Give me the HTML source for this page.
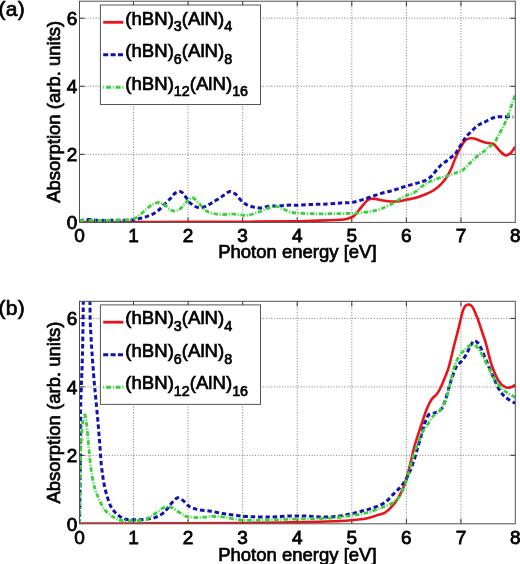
<!DOCTYPE html>
<html><head><meta charset="utf-8"><style>
html,body{margin:0;padding:0;background:#fff;}
body{width:520px;height:564px;overflow:hidden;}
svg{display:block;}
text{font-family:"Liberation Sans", Arial, Helvetica, sans-serif;fill:#000;stroke:#000;stroke-width:0.7px;}
.tk{font-size:19px;stroke-width:0.8px;}
.lab{font-size:18.5px;}
.leg{font-size:18.6px;}
.sub{font-size:14.3px;}
.pl{font-size:21px;letter-spacing:0.3px;}
</style></head><body>
<svg width="520" height="564" viewBox="0 0 520 564">
<rect width="520" height="564" fill="#fff"/>
<clipPath id="clipa"><rect x="79.50" y="1.20" width="435.80" height="221.20"/></clipPath>
<path d="M133.52 1.20 V222.40 M188.09 1.20 V222.40 M242.66 1.20 V222.40 M297.23 1.20 V222.40 M351.80 1.20 V222.40 M406.37 1.20 V222.40 M460.94 1.20 V222.40 M79.50 154.34 H515.30 M79.50 86.28 H515.30 M79.50 18.22 H515.30" stroke="#6e6e6e" stroke-width="0.9" stroke-dasharray="1 1.7" fill="none"/>
<path d="M133.52 222.40 v-5 M133.52 1.20 v5 M188.09 222.40 v-5 M188.09 1.20 v5 M242.66 222.40 v-5 M242.66 1.20 v5 M297.23 222.40 v-5 M297.23 1.20 v5 M351.80 222.40 v-5 M351.80 1.20 v5 M406.37 222.40 v-5 M406.37 1.20 v5 M460.94 222.40 v-5 M460.94 1.20 v5 M79.50 154.34 h5 M515.30 154.34 h-5 M79.50 86.28 h5 M515.30 86.28 h-5 M79.50 18.22 h5 M515.30 18.22 h-5" stroke="#333" stroke-width="1" fill="none"/>
<g clip-path="url(#clipa)" fill="none" stroke-linejoin="round">
<path d="M79.50 222.10 C91.25 222.08 121.58 222.07 150.00 222.00 C178.42 221.93 225.83 221.80 250.00 221.70 C274.17 221.60 284.62 221.55 295.00 221.40 C305.38 221.25 306.53 221.00 312.30 220.80 C318.07 220.60 324.98 220.37 329.60 220.20 C334.22 220.03 337.15 220.02 340.00 219.80 C342.85 219.58 344.45 219.47 346.70 218.90 C348.95 218.33 351.48 217.82 353.50 216.40 C355.52 214.98 357.02 212.53 358.80 210.40 C360.58 208.27 362.52 205.47 364.20 203.60 C365.88 201.73 367.10 199.98 368.90 199.20 C370.70 198.42 372.65 198.68 375.00 198.90 C377.35 199.12 380.32 200.07 383.00 200.50 C385.68 200.93 388.40 201.37 391.10 201.50 C393.80 201.63 396.55 201.62 399.20 201.30 C401.85 200.98 404.37 200.15 407.00 199.60 C409.63 199.05 411.90 198.88 415.00 198.00 C418.10 197.12 422.42 195.63 425.60 194.30 C428.78 192.97 431.43 191.78 434.10 190.00 C436.77 188.22 439.47 185.82 441.60 183.60 C443.73 181.38 445.30 179.18 446.90 176.70 C448.50 174.22 449.85 171.65 451.20 168.70 C452.55 165.75 453.65 162.12 455.00 159.00 C456.35 155.88 457.88 152.73 459.30 150.00 C460.72 147.27 462.27 144.37 463.50 142.60 C464.73 140.83 465.45 140.12 466.70 139.40 C467.95 138.68 469.58 138.40 471.00 138.30 C472.42 138.20 473.62 138.35 475.20 138.80 C476.78 139.25 478.87 140.40 480.50 141.00 C482.13 141.60 483.35 142.00 485.00 142.40 C486.65 142.80 488.87 143.05 490.40 143.40 C491.93 143.75 492.73 143.37 494.20 144.50 C495.67 145.63 497.37 148.42 499.20 150.20 C501.03 151.98 503.40 154.63 505.20 155.20 C507.00 155.77 508.32 155.00 510.00 153.60 C511.68 152.20 514.42 147.93 515.30 146.80" stroke="#e8141c" stroke-width="2.6"/>
<path d="M79.50 220.60 C80.42 220.47 83.25 219.97 85.00 219.80 C86.75 219.63 88.33 219.53 90.00 219.60 C91.67 219.67 92.50 220.07 95.00 220.20 C97.50 220.33 101.67 220.38 105.00 220.40 C108.33 220.42 111.67 220.33 115.00 220.30 C118.33 220.27 121.92 220.28 125.00 220.20 C128.08 220.12 130.75 220.17 133.50 219.80 C136.25 219.43 139.20 218.58 141.50 218.00 C143.80 217.42 145.38 216.97 147.30 216.30 C149.22 215.63 151.08 215.05 153.00 214.00 C154.92 212.95 156.87 211.63 158.80 210.00 C160.73 208.37 162.67 206.12 164.60 204.20 C166.53 202.28 168.67 200.32 170.40 198.50 C172.13 196.68 173.47 194.47 175.00 193.30 C176.53 192.13 178.25 191.50 179.60 191.50 C180.95 191.50 181.95 192.18 183.10 193.30 C184.25 194.42 185.42 196.67 186.50 198.20 C187.58 199.73 187.93 201.02 189.60 202.50 C191.27 203.98 194.18 206.33 196.50 207.10 C198.82 207.87 201.18 207.67 203.50 207.10 C205.82 206.53 208.10 204.95 210.40 203.70 C212.70 202.45 215.00 201.05 217.30 199.60 C219.60 198.15 222.08 196.35 224.20 195.00 C226.32 193.65 228.07 191.60 230.00 191.50 C231.93 191.40 233.88 192.85 235.80 194.40 C237.72 195.95 239.65 199.07 241.50 200.80 C243.35 202.53 244.85 203.75 246.90 204.80 C248.95 205.85 251.48 206.58 253.80 207.10 C256.12 207.62 258.30 208.03 260.80 207.90 C263.30 207.77 266.12 206.62 268.80 206.30 C271.48 205.98 274.40 206.12 276.90 206.00 C279.40 205.88 281.48 205.77 283.80 205.60 C286.12 205.43 288.55 205.07 290.80 205.00 C293.05 204.93 293.72 205.30 297.30 205.20 C300.88 205.10 307.30 204.60 312.30 204.40 C317.30 204.20 322.48 204.25 327.30 204.00 C332.12 203.75 336.97 203.18 341.20 202.90 C345.43 202.62 348.42 203.07 352.70 202.30 C356.98 201.53 362.28 199.75 366.90 198.30 C371.52 196.85 375.92 194.95 380.40 193.60 C384.88 192.25 389.70 191.38 393.80 190.20 C397.90 189.02 401.12 187.68 405.00 186.50 C408.88 185.32 413.67 184.12 417.10 183.10 C420.53 182.08 423.20 181.55 425.60 180.40 C428.00 179.25 429.72 177.88 431.50 176.20 C433.28 174.52 434.70 172.17 436.30 170.30 C437.90 168.43 439.33 166.60 441.10 165.00 C442.87 163.40 445.17 162.03 446.90 160.70 C448.63 159.37 450.15 158.03 451.50 157.00 C452.85 155.97 453.88 155.85 455.00 154.50 C456.12 153.15 456.97 150.88 458.20 148.90 C459.43 146.92 461.17 144.55 462.40 142.60 C463.63 140.65 464.17 138.98 465.60 137.20 C467.03 135.42 469.22 133.67 471.00 131.90 C472.78 130.13 474.63 127.98 476.30 126.60 C477.97 125.22 479.55 124.40 481.00 123.60 C482.45 122.80 483.38 122.57 485.00 121.80 C486.62 121.03 488.82 119.82 490.70 119.00 C492.58 118.18 494.18 117.28 496.30 116.90 C498.42 116.52 500.80 116.70 503.40 116.70 C506.00 116.70 510.25 116.85 511.90 116.90 C513.55 116.95 513.07 116.98 513.30 117.00" stroke="#1212b0" stroke-width="3" stroke-dasharray="4.5 2.8"/>
<path d="M79.50 220.60 C81.25 220.57 86.58 220.40 90.00 220.40 C93.42 220.40 96.67 220.62 100.00 220.60 C103.33 220.58 106.67 220.37 110.00 220.30 C113.33 220.23 117.00 220.28 120.00 220.20 C123.00 220.12 125.75 219.97 128.00 219.80 C130.25 219.63 131.25 220.25 133.50 219.20 C135.75 218.15 139.20 215.32 141.50 213.50 C143.80 211.68 145.38 209.85 147.30 208.30 C149.22 206.75 151.08 205.17 153.00 204.20 C154.92 203.23 156.87 202.40 158.80 202.50 C160.73 202.60 162.87 203.75 164.60 204.80 C166.33 205.85 167.57 207.73 169.20 208.80 C170.83 209.87 172.67 211.10 174.40 211.20 C176.13 211.30 177.83 210.68 179.60 209.40 C181.37 208.12 183.43 205.15 185.00 203.50 C186.57 201.85 187.67 200.43 189.00 199.50 C190.33 198.57 191.37 197.32 193.00 197.90 C194.63 198.48 196.67 200.88 198.80 203.00 C200.93 205.12 203.30 208.85 205.80 210.60 C208.30 212.35 211.10 212.83 213.80 213.50 C216.50 214.17 219.13 214.53 222.00 214.60 C224.87 214.67 228.33 213.90 231.00 213.90 C233.67 213.90 235.83 214.35 238.00 214.60 C240.17 214.85 242.00 215.37 244.00 215.40 C246.00 215.43 248.17 215.17 250.00 214.80 C251.83 214.43 253.20 213.80 255.00 213.20 C256.80 212.60 258.68 212.02 260.80 211.20 C262.92 210.38 265.20 209.12 267.70 208.30 C270.20 207.48 273.30 206.22 275.80 206.30 C278.30 206.38 280.40 207.90 282.70 208.80 C285.00 209.70 287.13 210.98 289.60 211.70 C292.07 212.42 292.77 212.75 297.50 213.10 C302.23 213.45 311.68 213.72 318.00 213.80 C324.32 213.88 329.48 213.68 335.40 213.60 C341.32 213.52 348.25 213.57 353.50 213.30 C358.75 213.03 362.42 212.72 366.90 212.00 C371.38 211.28 375.92 210.50 380.40 209.00 C384.88 207.50 390.53 204.67 393.80 203.00 C397.07 201.33 397.75 200.30 400.00 199.00 C402.25 197.70 404.80 196.35 407.30 195.20 C409.80 194.05 412.65 193.50 415.00 192.10 C417.35 190.70 418.92 188.57 421.40 186.80 C423.88 185.03 427.07 182.92 429.90 181.50 C432.73 180.08 435.57 179.18 438.40 178.30 C441.23 177.42 444.07 177.08 446.90 176.20 C449.73 175.32 452.92 173.88 455.40 173.00 C457.88 172.12 460.20 171.73 461.80 170.90 C463.40 170.07 463.80 169.15 465.00 168.00 C466.20 166.85 467.65 165.33 469.00 164.00 C470.35 162.67 471.35 161.62 473.10 160.00 C474.85 158.38 477.52 155.88 479.50 154.30 C481.48 152.72 483.38 151.75 485.00 150.50 C486.62 149.25 487.67 148.02 489.20 146.80 C490.73 145.58 492.78 144.87 494.20 143.20 C495.62 141.53 496.40 139.18 497.70 136.80 C499.00 134.42 500.58 131.63 502.00 128.90 C503.42 126.17 504.90 123.47 506.20 120.40 C507.50 117.33 508.73 113.57 509.80 110.50 C510.87 107.43 511.68 104.58 512.60 102.00 C513.52 99.42 514.85 96.17 515.30 95.00" stroke="#3ad23a" stroke-width="2.8" stroke-dasharray="4.6 1.7 1 1.7"/>
</g>
<rect x="79.50" y="1.20" width="435.80" height="221.20" fill="none" stroke="#505050" stroke-width="1"/>
<text x="79.50" y="242.00" text-anchor="middle" class="tk">0</text>
<text x="133.52" y="242.00" text-anchor="middle" class="tk">1</text>
<text x="188.09" y="242.00" text-anchor="middle" class="tk">2</text>
<text x="242.66" y="242.00" text-anchor="middle" class="tk">3</text>
<text x="297.23" y="242.00" text-anchor="middle" class="tk">4</text>
<text x="351.80" y="242.00" text-anchor="middle" class="tk">5</text>
<text x="406.37" y="242.00" text-anchor="middle" class="tk">6</text>
<text x="460.94" y="242.00" text-anchor="middle" class="tk">7</text>
<text x="515.30" y="242.00" text-anchor="middle" class="tk">8</text>
<text x="77.30" y="229.30" text-anchor="end" class="tk">0</text>
<text x="77.30" y="161.24" text-anchor="end" class="tk">2</text>
<text x="77.30" y="93.18" text-anchor="end" class="tk">4</text>
<text x="77.30" y="25.12" text-anchor="end" class="tk">6</text>
<text x="297.40" y="258.30" text-anchor="middle" class="lab">Photon energy [eV]</text>
<text transform="translate(59.5 111.80) rotate(-90)" text-anchor="middle" class="lab">Absorption (arb. units)</text>
<text x="-1.5" y="16.20" class="pl">(a)</text>
<rect x="100.40" y="5.00" width="160.10" height="99.50" fill="#fff" stroke="#555" stroke-width="1"/>
<path d="M103.2 22.30 H123.4" stroke="#e8141c" stroke-width="2.8"/>
<text x="125.3" y="24.50" class="leg">(hBN)<tspan class="sub" dy="6.6">3</tspan><tspan dy="-6.6">(AlN)</tspan><tspan class="sub" dy="6.6">4</tspan></text>
<path d="M103.2 54.80 H123.4" stroke="#1212b0" stroke-width="3" stroke-dasharray="5 2.4"/>
<text x="125.3" y="57.00" class="leg">(hBN)<tspan class="sub" dy="6.6">6</tspan><tspan dy="-6.6">(AlN)</tspan><tspan class="sub" dy="6.6">8</tspan></text>
<path d="M103.2 87.30 H123.4" stroke="#3ad23a" stroke-width="3" stroke-dasharray="1 1.8 5 1.8"/>
<text x="125.3" y="89.50" class="leg">(hBN)<tspan class="sub" dy="6.6">12</tspan><tspan dy="-6.6">(AlN)</tspan><tspan class="sub" dy="6.6">16</tspan></text>
<clipPath id="clipb"><rect x="79.50" y="301.30" width="435.80" height="222.50"/></clipPath>
<path d="M133.52 301.30 V523.80 M188.09 301.30 V523.80 M242.66 301.30 V523.80 M297.23 301.30 V523.80 M351.80 301.30 V523.80 M406.37 301.30 V523.80 M460.94 301.30 V523.80 M79.50 455.34 H515.30 M79.50 386.88 H515.30 M79.50 318.42 H515.30" stroke="#6e6e6e" stroke-width="0.9" stroke-dasharray="1 1.7" fill="none"/>
<path d="M133.52 523.80 v-5 M133.52 301.30 v5 M188.09 523.80 v-5 M188.09 301.30 v5 M242.66 523.80 v-5 M242.66 301.30 v5 M297.23 523.80 v-5 M297.23 301.30 v5 M351.80 523.80 v-5 M351.80 301.30 v5 M406.37 523.80 v-5 M406.37 301.30 v5 M460.94 523.80 v-5 M460.94 301.30 v5 M79.50 455.34 h5 M515.30 455.34 h-5 M79.50 386.88 h5 M515.30 386.88 h-5 M79.50 318.42 h5 M515.30 318.42 h-5" stroke="#333" stroke-width="1" fill="none"/>
<g clip-path="url(#clipb)" fill="none" stroke-linejoin="round">
<path d="M79.50 523.50 C91.25 523.48 122.42 523.48 150.00 523.40 C177.58 523.32 221.67 523.17 245.00 523.00 C268.33 522.83 277.50 522.60 290.00 522.40 C302.50 522.20 312.43 522.00 320.00 521.80 C327.57 521.60 330.27 521.45 335.40 521.20 C340.53 520.95 345.67 520.75 350.80 520.30 C355.93 519.85 361.67 519.38 366.20 518.50 C370.73 517.62 374.87 515.98 378.00 515.00 C381.13 514.02 382.72 513.98 385.00 512.60 C387.28 511.22 389.45 509.22 391.70 506.70 C393.95 504.18 396.53 500.73 398.50 497.50 C400.47 494.27 402.10 490.68 403.50 487.30 C404.90 483.92 405.77 481.13 406.90 477.20 C408.03 473.27 409.12 468.57 410.30 463.70 C411.48 458.83 412.57 453.25 414.00 448.00 C415.43 442.75 417.50 436.60 418.90 432.20 C420.30 427.80 421.22 425.13 422.40 421.60 C423.58 418.07 424.82 414.10 426.00 411.00 C427.18 407.90 428.33 405.22 429.50 403.00 C430.67 400.78 431.83 399.12 433.00 397.70 C434.17 396.28 435.33 395.95 436.50 394.50 C437.67 393.05 438.58 391.88 440.00 389.00 C441.42 386.12 443.55 380.82 445.00 377.20 C446.45 373.58 447.47 371.42 448.70 367.30 C449.93 363.18 451.48 356.22 452.40 352.50 C453.32 348.78 453.48 347.83 454.20 345.00 C454.92 342.17 455.87 338.75 456.70 335.50 C457.53 332.25 458.43 328.67 459.20 325.50 C459.97 322.33 460.62 319.17 461.30 316.50 C461.98 313.83 462.55 311.33 463.30 309.50 C464.05 307.67 464.97 306.33 465.80 305.50 C466.63 304.67 467.47 304.53 468.30 304.50 C469.13 304.47 469.97 304.67 470.80 305.30 C471.63 305.93 472.47 306.82 473.30 308.30 C474.13 309.78 474.97 312.17 475.80 314.20 C476.63 316.23 477.47 318.20 478.30 320.50 C479.13 322.80 479.97 325.50 480.80 328.00 C481.63 330.50 482.47 333.00 483.30 335.50 C484.13 338.00 484.45 338.23 485.80 343.00 C487.15 347.77 489.32 357.88 491.40 364.10 C493.48 370.32 495.98 376.45 498.30 380.30 C500.62 384.15 503.18 386.05 505.30 387.20 C507.42 388.35 509.33 387.58 511.00 387.20 C512.67 386.82 514.58 385.28 515.30 384.90" stroke="#e8141c" stroke-width="2.6"/>
<path d="M79.50 523.60 C79.57 519.67 79.77 510.10 79.90 500.00 C80.03 489.90 80.22 473.50 80.30 463.00 C80.38 452.50 80.35 445.83 80.40 437.00 C80.45 428.17 80.45 418.33 80.60 410.00 C80.75 401.67 81.00 395.83 81.30 387.00 C81.60 378.17 82.10 368.17 82.40 357.00 C82.70 345.83 82.90 330.33 83.10 320.00 C83.30 309.67 83.03 303.33 83.60 295.00 C84.17 286.67 85.50 270.00 86.50 270.00 C87.50 270.00 88.98 286.67 89.60 295.00 C90.22 303.33 89.93 312.50 90.20 320.00 C90.47 327.50 90.85 333.83 91.20 340.00 C91.55 346.17 91.80 350.07 92.30 357.00 C92.80 363.93 93.63 374.83 94.20 381.60 C94.77 388.37 95.13 391.53 95.70 397.60 C96.27 403.67 97.05 411.83 97.60 418.00 C98.15 424.17 98.57 429.27 99.00 434.60 C99.43 439.93 99.82 445.02 100.20 450.00 C100.58 454.98 100.85 460.00 101.30 464.50 C101.75 469.00 102.32 473.15 102.90 477.00 C103.48 480.85 104.03 484.18 104.80 487.60 C105.57 491.02 106.53 494.43 107.50 497.50 C108.47 500.57 109.38 503.58 110.60 506.00 C111.82 508.42 113.27 510.27 114.80 512.00 C116.33 513.73 117.93 515.18 119.80 516.40 C121.67 517.62 123.48 518.73 126.00 519.30 C128.52 519.87 131.90 519.78 134.90 519.80 C137.90 519.82 140.68 519.77 144.00 519.40 C147.32 519.03 151.72 518.57 154.80 517.60 C157.88 516.63 160.42 515.07 162.50 513.60 C164.58 512.13 165.70 510.65 167.30 508.80 C168.90 506.95 170.33 504.35 172.10 502.50 C173.87 500.65 175.97 497.93 177.90 497.70 C179.83 497.47 181.93 499.73 183.70 501.10 C185.47 502.47 187.07 504.78 188.50 505.90 C189.93 507.02 190.52 507.13 192.30 507.80 C194.08 508.47 196.12 509.33 199.20 509.90 C202.28 510.47 206.95 510.60 210.80 511.20 C214.65 511.80 218.47 512.85 222.30 513.50 C226.13 514.15 229.57 514.60 233.80 515.10 C238.03 515.60 241.67 516.18 247.70 516.50 C253.73 516.82 262.95 517.08 270.00 517.00 C277.05 516.92 284.17 516.17 290.00 516.00 C295.83 515.83 300.00 515.85 305.00 516.00 C310.00 516.15 314.93 516.80 320.00 516.90 C325.07 517.00 330.27 517.12 335.40 516.60 C340.53 516.08 346.20 514.77 350.80 513.80 C355.40 512.83 359.17 511.82 363.00 510.80 C366.83 509.78 370.13 509.08 373.80 507.70 C377.47 506.32 381.73 504.77 385.00 502.50 C388.27 500.23 390.87 496.63 393.40 494.10 C395.93 491.57 398.23 489.55 400.20 487.30 C402.17 485.05 403.52 483.40 405.20 480.60 C406.88 477.80 408.75 474.15 410.30 470.50 C411.85 466.85 413.23 462.63 414.50 458.70 C415.77 454.77 416.73 450.87 417.90 446.90 C419.07 442.93 420.60 438.08 421.50 434.90 C422.40 431.72 422.63 430.08 423.30 427.80 C423.97 425.52 424.53 423.42 425.50 421.20 C426.47 418.98 427.40 415.92 429.10 414.50 C430.80 413.08 433.57 413.73 435.70 412.70 C437.83 411.67 440.32 410.33 441.90 408.30 C443.48 406.27 444.07 403.82 445.20 400.50 C446.33 397.18 447.60 392.08 448.70 388.40 C449.80 384.72 450.57 381.92 451.80 378.40 C453.03 374.88 454.45 370.20 456.10 367.30 C457.75 364.40 460.03 363.08 461.70 361.00 C463.37 358.92 464.75 357.07 466.10 354.80 C467.45 352.53 468.67 349.57 469.80 347.40 C470.93 345.23 472.03 342.90 472.90 341.80 C473.77 340.70 474.27 340.70 475.00 340.80 C475.73 340.90 476.47 341.52 477.30 342.40 C478.13 343.28 478.42 342.87 480.00 346.10 C481.58 349.33 484.52 356.48 486.80 361.80 C489.08 367.12 491.40 373.00 493.70 378.00 C496.00 383.00 498.28 388.35 500.60 391.80 C502.92 395.25 505.15 396.78 507.60 398.70 C510.05 400.62 514.02 402.53 515.30 403.30" stroke="#1212b0" stroke-width="3" stroke-dasharray="4.5 2.8"/>
<path d="M79.50 523.60 C79.58 518.00 79.82 501.43 80.00 490.00 C80.18 478.57 80.35 463.83 80.60 455.00 C80.85 446.17 81.17 442.33 81.50 437.00 C81.83 431.67 82.18 426.45 82.60 423.00 C83.02 419.55 83.57 417.58 84.00 416.30 C84.43 415.02 84.77 414.02 85.20 415.30 C85.63 416.58 86.02 418.88 86.60 424.00 C87.18 429.12 88.10 439.67 88.70 446.00 C89.30 452.33 89.63 457.00 90.20 462.00 C90.77 467.00 91.30 471.50 92.10 476.00 C92.90 480.50 93.85 485.15 95.00 489.00 C96.15 492.85 97.50 495.77 99.00 499.10 C100.50 502.43 102.07 506.32 104.00 509.00 C105.93 511.68 108.60 513.60 110.60 515.20 C112.60 516.80 114.10 517.70 116.00 518.60 C117.90 519.50 119.08 520.28 122.00 520.60 C124.92 520.92 129.87 520.57 133.50 520.50 C137.13 520.43 141.05 520.78 143.80 520.20 C146.55 519.62 148.00 518.18 150.00 517.00 C152.00 515.82 153.55 514.63 155.80 513.10 C158.05 511.57 161.47 508.85 163.50 507.80 C165.53 506.75 166.57 506.80 168.00 506.80 C169.43 506.80 170.30 506.92 172.10 507.80 C173.90 508.68 176.72 510.82 178.80 512.10 C180.88 513.38 182.98 514.70 184.60 515.50 C186.22 516.30 186.07 516.55 188.50 516.90 C190.93 517.25 195.48 517.67 199.20 517.60 C202.92 517.53 206.95 516.62 210.80 516.50 C214.65 516.38 218.47 516.52 222.30 516.90 C226.13 517.28 229.57 518.22 233.80 518.80 C238.03 519.38 238.33 520.33 247.70 520.40 C257.07 520.47 277.95 519.52 290.00 519.20 C302.05 518.88 312.43 518.75 320.00 518.50 C327.57 518.25 330.27 518.17 335.40 517.70 C340.53 517.23 345.67 516.48 350.80 515.70 C355.93 514.92 361.08 514.33 366.20 513.00 C371.32 511.67 376.97 509.45 381.50 507.70 C386.03 505.95 390.28 504.48 393.40 502.50 C396.52 500.52 398.23 498.88 400.20 495.80 C402.17 492.72 403.80 487.67 405.20 484.00 C406.60 480.33 407.47 477.73 408.60 473.80 C409.73 469.87 410.73 464.70 412.00 460.40 C413.27 456.10 415.05 451.23 416.20 448.00 C417.35 444.77 417.87 443.63 418.90 441.00 C419.93 438.37 420.93 434.98 422.40 432.20 C423.87 429.42 425.93 426.95 427.70 424.30 C429.47 421.65 431.07 418.52 433.00 416.30 C434.93 414.08 437.52 412.92 439.30 411.00 C441.08 409.08 442.53 406.88 443.70 404.80 C444.87 402.72 445.37 401.45 446.30 398.50 C447.23 395.55 448.28 391.27 449.30 387.10 C450.32 382.93 451.37 377.43 452.40 373.50 C453.43 369.57 454.25 366.62 455.50 363.50 C456.75 360.38 458.35 357.07 459.90 354.80 C461.45 352.53 463.15 351.45 464.80 349.90 C466.45 348.35 468.35 346.43 469.80 345.50 C471.25 344.57 472.25 343.98 473.50 344.30 C474.75 344.62 476.22 346.27 477.30 347.40 C478.38 348.53 478.42 348.32 480.00 351.10 C481.58 353.88 484.52 359.62 486.80 364.10 C489.08 368.58 491.40 374.15 493.70 378.00 C496.00 381.85 498.28 384.72 500.60 387.20 C502.92 389.68 505.15 391.18 507.60 392.90 C510.05 394.62 514.02 396.73 515.30 397.50" stroke="#3ad23a" stroke-width="2.8" stroke-dasharray="4.6 1.7 1 1.7"/>
</g>
<rect x="79.50" y="301.30" width="435.80" height="222.50" fill="none" stroke="#505050" stroke-width="1"/>
<text x="79.50" y="544.00" text-anchor="middle" class="tk">0</text>
<text x="133.52" y="544.00" text-anchor="middle" class="tk">1</text>
<text x="188.09" y="544.00" text-anchor="middle" class="tk">2</text>
<text x="242.66" y="544.00" text-anchor="middle" class="tk">3</text>
<text x="297.23" y="544.00" text-anchor="middle" class="tk">4</text>
<text x="351.80" y="544.00" text-anchor="middle" class="tk">5</text>
<text x="406.37" y="544.00" text-anchor="middle" class="tk">6</text>
<text x="460.94" y="544.00" text-anchor="middle" class="tk">7</text>
<text x="515.30" y="544.00" text-anchor="middle" class="tk">8</text>
<text x="77.30" y="530.70" text-anchor="end" class="tk">0</text>
<text x="77.30" y="462.24" text-anchor="end" class="tk">2</text>
<text x="77.30" y="393.78" text-anchor="end" class="tk">4</text>
<text x="77.30" y="325.32" text-anchor="end" class="tk">6</text>
<text x="297.40" y="561.00" text-anchor="middle" class="lab">Photon energy [eV]</text>
<text transform="translate(59.5 412.55) rotate(-90)" text-anchor="middle" class="lab">Absorption (arb. units)</text>
<text x="-1.5" y="315.20" class="pl">(b)</text>
<rect x="100.40" y="304.90" width="160.10" height="99.50" fill="#fff" stroke="#555" stroke-width="1"/>
<path d="M103.2 322.20 H123.4" stroke="#e8141c" stroke-width="2.8"/>
<text x="125.3" y="324.40" class="leg">(hBN)<tspan class="sub" dy="6.6">3</tspan><tspan dy="-6.6">(AlN)</tspan><tspan class="sub" dy="6.6">4</tspan></text>
<path d="M103.2 354.70 H123.4" stroke="#1212b0" stroke-width="3" stroke-dasharray="5 2.4"/>
<text x="125.3" y="356.90" class="leg">(hBN)<tspan class="sub" dy="6.6">6</tspan><tspan dy="-6.6">(AlN)</tspan><tspan class="sub" dy="6.6">8</tspan></text>
<path d="M103.2 387.20 H123.4" stroke="#3ad23a" stroke-width="3" stroke-dasharray="1 1.8 5 1.8"/>
<text x="125.3" y="389.40" class="leg">(hBN)<tspan class="sub" dy="6.6">12</tspan><tspan dy="-6.6">(AlN)</tspan><tspan class="sub" dy="6.6">16</tspan></text>
</svg>
</body></html>
